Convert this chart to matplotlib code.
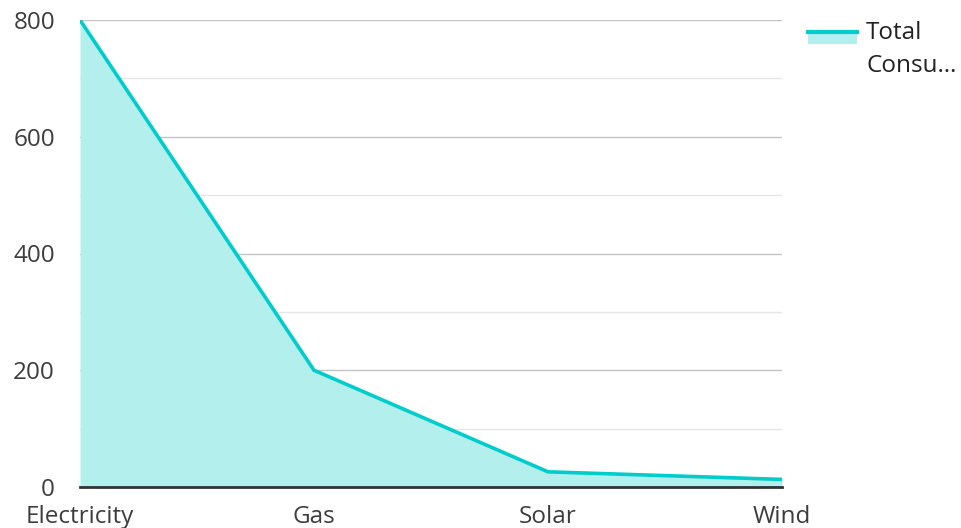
import matplotlib
matplotlib.use("Agg")
import matplotlib.pyplot as plt
from matplotlib.patches import Rectangle
from matplotlib.lines import Line2D

categories = ["Electricity", "Gas", "Solar", "Wind"]
consumption = [800, 200, 26, 13]
legend_lines = ["Total", "Consu…"]

plt.rcParams["font.family"] = ["Open Sans", "DejaVu Sans"]

line_color = "#00cccc"
fill_color = "#b2efed"
text_color = "#3d3d3d"
fs = 17.5

fig = plt.figure(figsize=(9.61, 5.28), dpi=100)
ax = fig.add_axes([80 / 961, 1 - 487 / 528, 702 / 961, 467 / 528])

x = list(range(len(categories)))
ax.fill_between(x, consumption, 0, color=fill_color, linewidth=0, zorder=2)
ax.plot(x, consumption, color=line_color, linewidth=2.6, zorder=3, solid_joinstyle="miter")

ax.set_xlim(0, len(categories) - 1)
ax.set_ylim(0, 800)
ax.set_yticks([0, 200, 400, 600, 800])
ax.set_yticks([100, 300, 500, 700], minor=True)
ax.set_xticks(x)
ax.set_xticklabels(categories)

ax.grid(axis="y", which="major", color="#c4c4c4", linewidth=1, zorder=1)
ax.grid(axis="y", which="minor", color="#e6e6e6", linewidth=1, zorder=1)
ax.grid(axis="x", visible=False)

for side in ["top", "right", "left"]:
    ax.spines[side].set_visible(False)
ax.spines["bottom"].set_color("#333333")
ax.spines["bottom"].set_linewidth(2)
ax.spines["bottom"].set_zorder(4)

ax.tick_params(axis="both", which="both", length=0, labelsize=fs, colors=text_color)
ax.tick_params(axis="y", pad=18)
ax.tick_params(axis="x", pad=13)

# legend
fig.add_artist(Rectangle((808 / 961, 1 - 43.5 / 528), 49 / 961, 11 / 528,
                         transform=fig.transFigure, color=fill_color, lw=0))
fig.add_artist(Line2D([808 / 961, 857 / 961], [1 - 31.5 / 528, 1 - 31.5 / 528],
                      transform=fig.transFigure, color=line_color, lw=3))
for i, t in enumerate(legend_lines):
    fig.text(866 / 961, 1 - (39 + 32.5 * i) / 528, t, fontsize=fs, color="#222222",
             va="baseline", ha="left")

fig.savefig("out.png", dpi=100)
